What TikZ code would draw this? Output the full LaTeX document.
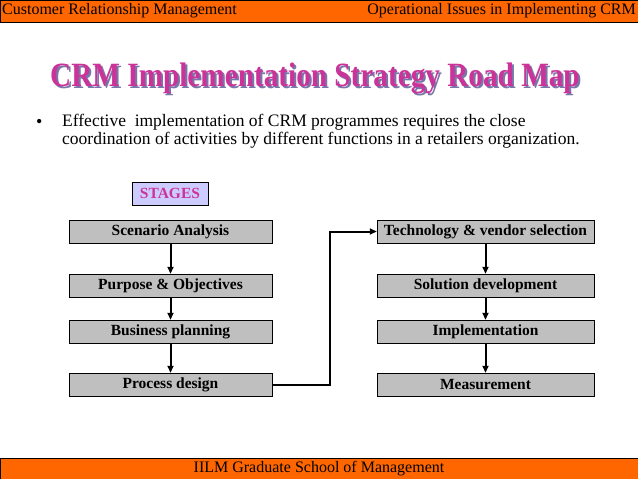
\documentclass[tikz,border=0pt]{standalone}
\usepackage{fontspec}
\setmainfont{Liberation Serif}
\usetikzlibrary{arrows.meta}
\definecolor{orng}{HTML}{FF6600}
\definecolor{ttl}{HTML}{CC3399}
\definecolor{lav}{HTML}{CCCCFF}
\definecolor{boxg}{HTML}{BFBFBF}
\definecolor{shd}{HTML}{7777AA}
\tikzset{
 stagebox/.style={draw=black, fill=boxg, minimum height=23pt, inner sep=0pt, font=\bfseries\fontsize{15.5}{18}\selectfont},
 conn/.style={-{Triangle[length=7pt,width=6pt]}, line width=2pt},
 ttlfont/.style={font=\bfseries\fontsize{34}{38}\selectfont, inner sep=0pt, xscale=0.86}
}
\begin{document}
\begin{tikzpicture}[x=1pt,y=-1pt]
\useasboundingbox (0,0) rectangle (638,479);
\fill[white] (0,0) rectangle (638,479);
\node[draw=black, line width=1pt, fill=orng, minimum width=638pt, minimum height=22pt, inner sep=0pt, anchor=north west] (hdr) at (0,0) {};
\node[anchor=west, font=\fontsize{16}{18}\selectfont, inner sep=0pt] (h1) at (2,11) {Customer Relationship Management};
\node[anchor=east, font=\fontsize{16}{18}\selectfont, inner sep=0pt] (h2) at (636,11) {Operational Issues in Implementing CRM};
\node[draw=black, line width=1pt, fill=orng, minimum width=638pt, minimum height=21pt, inner sep=0pt, anchor=north west] (ftr) at (0,458) {};
\node[font=\fontsize{16}{18}\selectfont, inner sep=0pt] (f1) at (319,469) {IILM Graduate School of Management};
\node[ttlfont, text=shd] (tsh) at (317,80) {CRM Implementation Strategy Road Map};
\node[ttlfont, text=ttl] (ttl) at (315,78) {CRM Implementation Strategy Road Map};
\node[font=\fontsize{18}{20}\selectfont, inner sep=0pt, anchor=west] (bul) at (36,123) {•};
\node[font=\fontsize{17.5}{18}\selectfont, inner sep=0pt, anchor=north west, align=left] (btxt) at (62,114) {Effective\ \ implementation of CRM programmes requires the close\\coordination of activities by different functions in a retailers organization.};
\node[draw=black, fill=lav, minimum width=76pt, minimum height=23pt, inner sep=0pt, text=ttl, font=\bfseries\fontsize{15.5}{18}\selectfont] (stg) at (170,193.5) {STAGES};
\node[stagebox, minimum width=203pt] (l1) at (170.5,231.5) {Scenario Analysis};
\node[stagebox, minimum width=203pt] (l2) at (170.5,285.5) {Purpose \& Objectives};
\node[stagebox, minimum width=203pt] (l3) at (170.5,331.5) {Business planning};
\node[stagebox, minimum width=203pt] (l4) at (170.5,384.5) {Process design};
\node[stagebox, minimum width=217pt] (r1) at (485.5,231.5) {Technology \& vendor selection};
\node[stagebox, minimum width=217pt] (r2) at (485.5,285.5) {Solution development};
\node[stagebox, minimum width=217pt] (r3) at (485.5,331.5) {Implementation};
\node[stagebox, minimum width=217pt] (r4) at (485.5,384.5) {Measurement};
\draw[conn] (l1) -- (l2);
\draw[conn] (l2) -- (l3);
\draw[conn] (l3) -- (l4);
\draw[conn] (r1) -- (r2);
\draw[conn] (r2) -- (r3);
\draw[conn] (r3) -- (r4);
\draw[conn] (l4.east) -- (330,384.5) -- (330,231.5) -- (r1.west);
\end{tikzpicture}
\end{document}
